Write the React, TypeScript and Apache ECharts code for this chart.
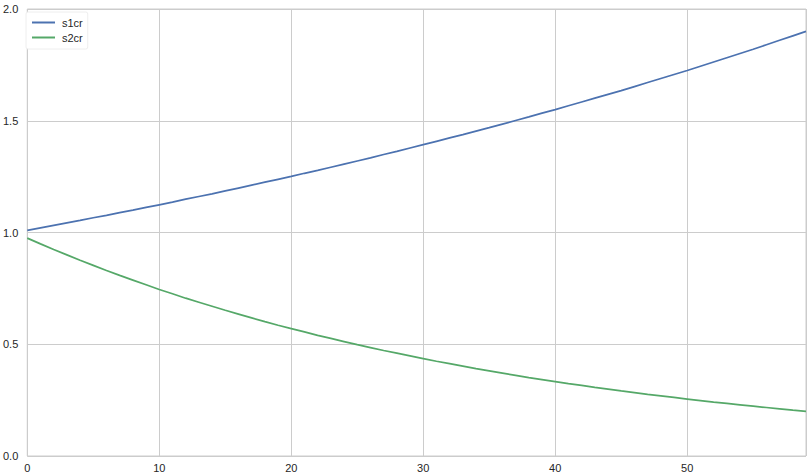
import React, { useEffect, useRef } from "react";
import * as echarts from "echarts";

const xValues: number[] = Array.from({ length: 60 }, (_, i) => i);

const s1cr: number[] = [
  1.010, 1.021, 1.032, 1.043, 1.054, 1.066, 1.077, 1.089, 1.100, 1.112,
  1.124, 1.136, 1.149, 1.161, 1.173, 1.186, 1.199, 1.212, 1.225, 1.238,
  1.251, 1.265, 1.278, 1.292, 1.306, 1.320, 1.334, 1.349, 1.363, 1.378,
  1.393, 1.408, 1.423, 1.438, 1.454, 1.469, 1.485, 1.501, 1.517, 1.534,
  1.550, 1.567, 1.584, 1.601, 1.618, 1.635, 1.653, 1.671, 1.689, 1.707,
  1.725, 1.744, 1.763, 1.782, 1.801, 1.820, 1.840, 1.860, 1.880, 1.900,
];

const s2cr: number[] = [
  0.975, 0.949, 0.924, 0.900, 0.876, 0.853, 0.830, 0.808, 0.787, 0.766,
  0.745, 0.726, 0.706, 0.688, 0.670, 0.652, 0.635, 0.618, 0.601, 0.585,
  0.570, 0.555, 0.540, 0.526, 0.512, 0.498, 0.485, 0.472, 0.460, 0.448,
  0.436, 0.424, 0.413, 0.402, 0.391, 0.381, 0.371, 0.361, 0.351, 0.342,
  0.333, 0.324, 0.316, 0.307, 0.299, 0.291, 0.284, 0.276, 0.269, 0.262,
  0.255, 0.248, 0.241, 0.235, 0.229, 0.223, 0.217, 0.211, 0.205, 0.200,
];

const seriesNames = ["s1cr", "s2cr"];
const seriesColors = ["#4c72b0", "#55a868"];

export default function App() {
  const ref = useRef<HTMLDivElement>(null);
  useEffect(() => {
    if (!ref.current) return;
    const chart = echarts.init(ref.current, undefined, { renderer: "svg" });
    const font = "Liberation Sans, Arial, sans-serif";
    chart.setOption({
      animation: false,
      backgroundColor: "#ffffff",
      grid: { left: 25, right: 6, top: 9, bottom: 18, containLabel: false, show: true, borderColor: "#cccccc", borderWidth: 1 },
      legend: {
        show: true,
        orient: "vertical",
        left: 26,
        top: 12,
        padding: [5, 5, 6, 6],
        itemGap: 4,
        itemWidth: 23,
        itemHeight: 2,
        icon: "rect",
        borderColor: "#eeeeee",
        borderWidth: 1,
        borderRadius: 2,
        backgroundColor: "#ffffff",
        textStyle: { color: "#262626", fontSize: 11, fontFamily: font, padding: [0, 0, 0, 2] },
        data: seriesNames,
      },
      xAxis: {
        type: "value",
        min: 0,
        max: 59,
        interval: 10,
        axisLine: { show: false },
        axisTick: { show: false },
        splitLine: { show: true, lineStyle: { color: "#cccccc", width: 1 } },
        axisLabel: { color: "#262626", fontSize: 11, fontFamily: font, margin: 6, showMaxLabel: false },
      },
      yAxis: {
        type: "value",
        min: 0,
        max: 2,
        interval: 0.5,
        axisLine: { show: false },
        axisTick: { show: false },
        splitLine: { show: true, lineStyle: { color: "#cccccc", width: 1 } },
        axisLabel: {
          color: "#262626",
          fontSize: 11,
          fontFamily: font,
          margin: 9,
          formatter: (v: number) => v.toFixed(1),
        },
      },
      series: [
        {
          name: seriesNames[0],
          type: "line",
          data: xValues.map((x, i) => [x, s1cr[i]]),
          showSymbol: false,
          color: seriesColors[0],
          lineStyle: { width: 1.75, color: seriesColors[0] },
        },
        {
          name: seriesNames[1],
          type: "line",
          data: xValues.map((x, i) => [x, s2cr[i]]),
          showSymbol: false,
          color: seriesColors[1],
          lineStyle: { width: 1.75, color: seriesColors[1] },
        },
      ],
    });
    return () => chart.dispose();
  }, []);
  return (
    <div
      ref={ref}
      style={{ position: "absolute", left: 0, top: 0, width: 812, height: 474 }}
    />
  );
}
